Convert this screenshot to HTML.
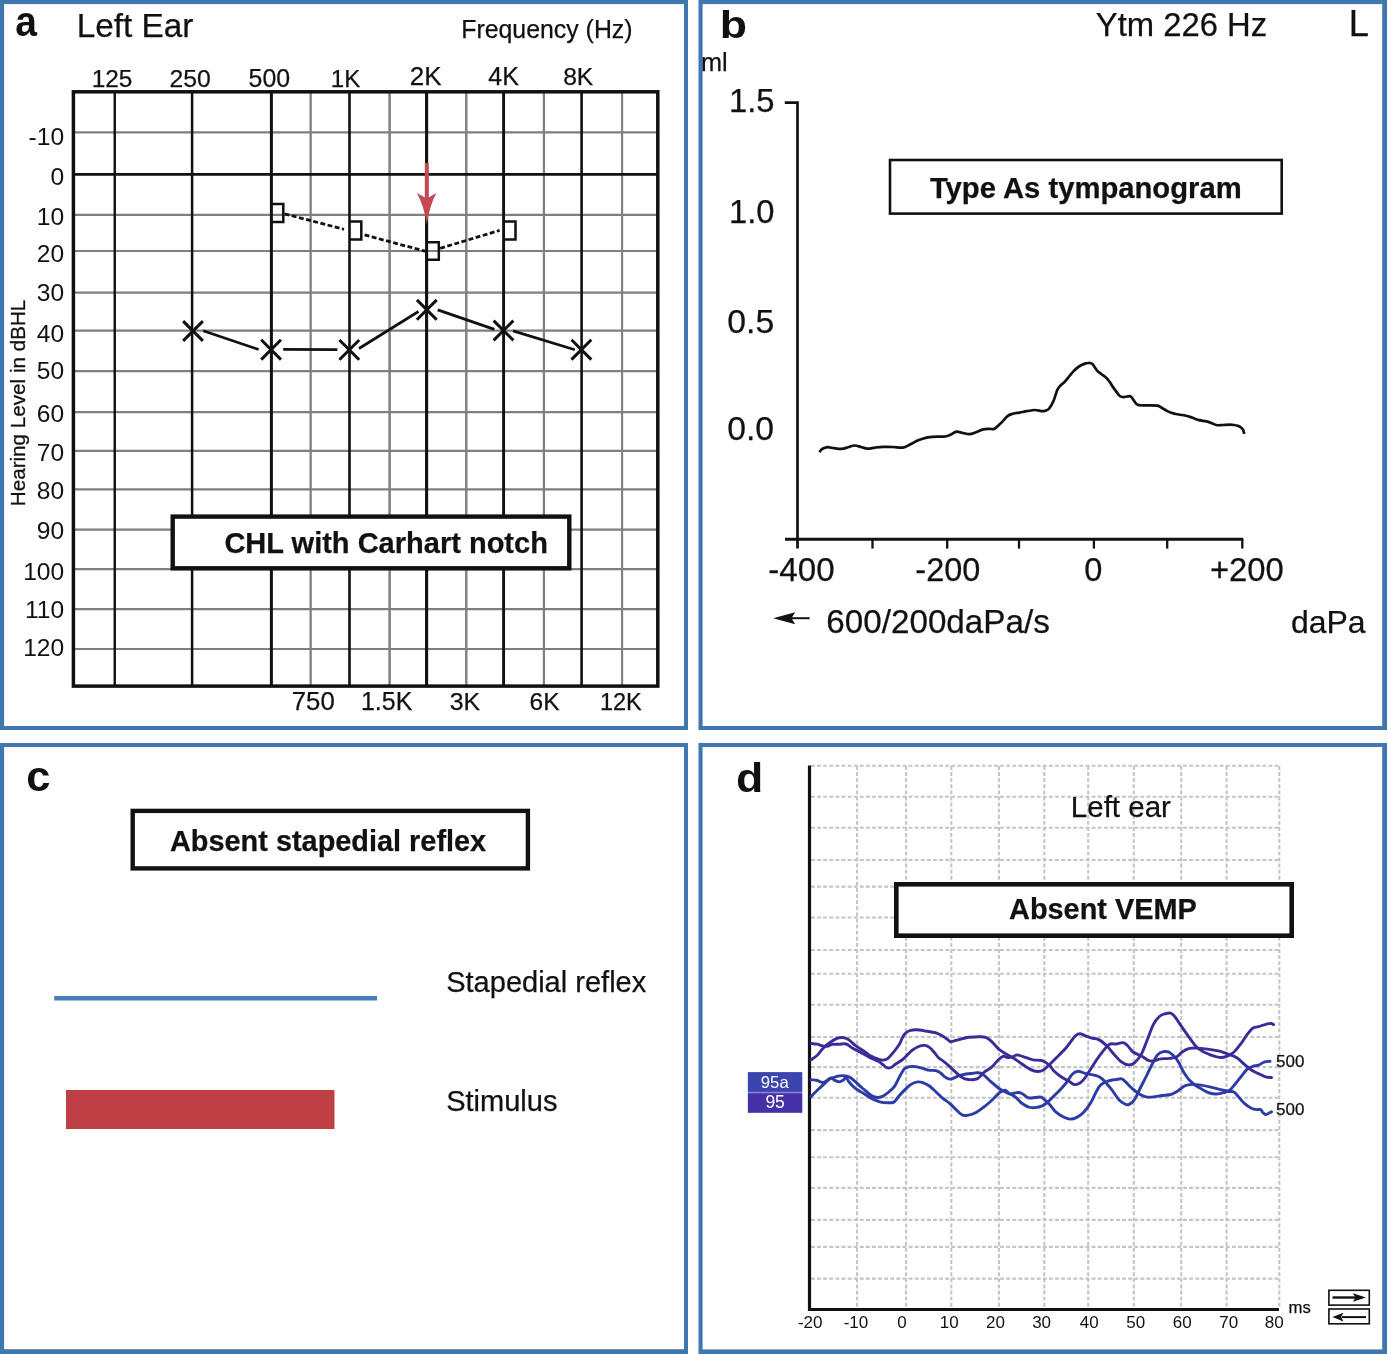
<!DOCTYPE html>
<html lang="en"><head><meta charset="utf-8"><title>Figure</title>
<style>
html,body{margin:0;padding:0;background:#fff;}
body{width:1388px;height:1354px;overflow:hidden;}
svg{display:block;font-family:'Liberation Sans', Arial, Helvetica, sans-serif;}
text{white-space:pre;}
</style></head><body>
<svg width="1388" height="1354" viewBox="0 0 1388 1354">
<rect width="1388" height="1354" fill="#fff"/>
<rect x="0" y="0" width="688" height="730" fill="#4177b1"/>
<rect x="4.1" y="4.1" width="679.9" height="721.9" fill="#fff"/>
<rect x="698.5" y="0" width="688.5" height="730" fill="#4177b1"/>
<rect x="702.6" y="4.1" width="679.6" height="721.9" fill="#fff"/>
<rect x="0" y="743" width="688" height="611" fill="#4177b1"/>
<rect x="4.1" y="747" width="679.9" height="602.2" fill="#fff"/>
<rect x="698.5" y="743" width="688.5" height="611" fill="#4177b1"/>
<rect x="702.6" y="747" width="679.6" height="602.4000000000001" fill="#fff"/>
<line x1="310.65" y1="91.8" x2="310.65" y2="686.1" stroke="#7f7f7f" stroke-width="2.3"/>
<line x1="389.6" y1="91.8" x2="389.6" y2="686.1" stroke="#7f7f7f" stroke-width="2.5"/>
<line x1="466.3" y1="91.8" x2="466.3" y2="686.1" stroke="#7f7f7f" stroke-width="2.4"/>
<line x1="543.9" y1="91.8" x2="543.9" y2="686.1" stroke="#7f7f7f" stroke-width="2.2"/>
<line x1="622.1" y1="91.8" x2="622.1" y2="686.1" stroke="#7f7f7f" stroke-width="2.1"/>
<line x1="73.4" y1="132.3" x2="657.8" y2="132.3" stroke="#7f7f7f" stroke-width="2.2"/>
<line x1="73.4" y1="214.9" x2="657.8" y2="214.9" stroke="#7f7f7f" stroke-width="2.2"/>
<line x1="73.4" y1="251.0" x2="657.8" y2="251.0" stroke="#7f7f7f" stroke-width="2.2"/>
<line x1="73.4" y1="292.6" x2="657.8" y2="292.6" stroke="#7f7f7f" stroke-width="2.2"/>
<line x1="73.4" y1="330.7" x2="657.8" y2="330.7" stroke="#7f7f7f" stroke-width="2.2"/>
<line x1="73.4" y1="371.2" x2="657.8" y2="371.2" stroke="#7f7f7f" stroke-width="2.2"/>
<line x1="73.4" y1="412.1" x2="657.8" y2="412.1" stroke="#7f7f7f" stroke-width="2.2"/>
<line x1="73.4" y1="450.9" x2="657.8" y2="450.9" stroke="#7f7f7f" stroke-width="2.2"/>
<line x1="73.4" y1="489.3" x2="657.8" y2="489.3" stroke="#7f7f7f" stroke-width="2.2"/>
<line x1="73.4" y1="529.6" x2="657.8" y2="529.6" stroke="#7f7f7f" stroke-width="2.2"/>
<line x1="73.4" y1="569.1" x2="657.8" y2="569.1" stroke="#7f7f7f" stroke-width="2.2"/>
<line x1="73.4" y1="609.1" x2="657.8" y2="609.1" stroke="#7f7f7f" stroke-width="2.2"/>
<line x1="73.4" y1="649.0" x2="657.8" y2="649.0" stroke="#7f7f7f" stroke-width="2.2"/>
<line x1="114.75" y1="91.8" x2="114.75" y2="686.1" stroke="#111" stroke-width="2.4"/>
<line x1="192.1" y1="91.8" x2="192.1" y2="686.1" stroke="#111" stroke-width="2.5"/>
<line x1="271.4" y1="91.8" x2="271.4" y2="686.1" stroke="#111" stroke-width="3.0"/>
<line x1="349.5" y1="91.8" x2="349.5" y2="686.1" stroke="#111" stroke-width="2.6"/>
<line x1="426.6" y1="91.8" x2="426.6" y2="686.1" stroke="#111" stroke-width="3.1"/>
<line x1="503.6" y1="91.8" x2="503.6" y2="686.1" stroke="#111" stroke-width="2.9"/>
<line x1="581.6" y1="91.8" x2="581.6" y2="686.1" stroke="#111" stroke-width="2.6"/>
<line x1="73.4" y1="174.3" x2="657.8" y2="174.3" stroke="#111" stroke-width="2.8"/>
<rect x="73.4" y="91.8" width="584.4" height="594.3000000000001" fill="none" stroke="#111" stroke-width="3.5"/>
<text transform="translate(15.27,35.88) scale(0.930,1)" font-size="41.97" font-weight="700" fill="#111">a</text>
<text x="76.77" y="37.20" font-size="33.32" fill="#111" stroke="#111" stroke-width="0.25">Left Ear</text>
<text x="461.26" y="37.70" font-size="24.87" fill="#111" stroke="#111" stroke-width="0.25">Frequency (Hz)</text>
<text x="91.65" y="87.30" font-size="24.39" fill="#111" stroke="#111" stroke-width="0.25">125</text>
<text x="169.46" y="87.30" font-size="24.76" fill="#111" stroke="#111" stroke-width="0.25">250</text>
<text x="248.61" y="87.30" font-size="24.86" fill="#111" stroke="#111" stroke-width="0.25">500</text>
<text x="330.77" y="86.50" font-size="24.14" fill="#111" stroke="#111" stroke-width="0.25">1K</text>
<text x="409.70" y="84.60" font-size="26.01" fill="#111" stroke="#111" stroke-width="0.25">2K</text>
<text x="488.32" y="84.60" font-size="25.08" fill="#111" stroke="#111" stroke-width="0.25">4K</text>
<text x="563.14" y="84.60" font-size="24.66" fill="#111" stroke="#111" stroke-width="0.25">8K</text>
<text x="291.79" y="709.60" font-size="25.73" fill="#111" stroke="#111" stroke-width="0.25">750</text>
<text x="361.00" y="709.60" font-size="24.94" fill="#111" stroke="#111" stroke-width="0.25">1.5K</text>
<text x="449.76" y="709.60" font-size="24.81" fill="#111" stroke="#111" stroke-width="0.25">3K</text>
<text x="529.55" y="709.60" font-size="24.57" fill="#111" stroke="#111" stroke-width="0.25">6K</text>
<text x="599.91" y="709.60" font-size="23.54" fill="#111" stroke="#111" stroke-width="0.25">12K</text>
<text x="28.61" y="144.50" font-size="24.6" fill="#111">-10</text>
<text x="50.48" y="185.10" font-size="24.6" fill="#111">0</text>
<text x="36.80" y="225.30" font-size="24.6" fill="#111">10</text>
<text x="36.80" y="262.10" font-size="24.6" fill="#111">20</text>
<text x="36.80" y="301.20" font-size="24.6" fill="#111">30</text>
<text x="36.80" y="341.90" font-size="24.6" fill="#111">40</text>
<text x="36.80" y="379.30" font-size="24.6" fill="#111">50</text>
<text x="36.80" y="421.90" font-size="24.6" fill="#111">60</text>
<text x="36.80" y="461.00" font-size="24.6" fill="#111">70</text>
<text x="36.80" y="498.90" font-size="24.6" fill="#111">80</text>
<text x="36.80" y="538.50" font-size="24.6" fill="#111">90</text>
<text x="23.13" y="579.70" font-size="24.6" fill="#111">100</text>
<text x="24.95" y="617.60" font-size="24.6" fill="#111">110</text>
<text x="23.13" y="655.70" font-size="24.6" fill="#111">120</text>
<text transform="translate(25.1,506.19) rotate(-90) scale(1.0427,1)" font-size="19.80" fill="#111" stroke="#111" stroke-width="0.3">Hearing Level in dBHL</text>
<line x1="203.1" y1="330.8" x2="258.6" y2="349.5" stroke="#111" stroke-width="2.7"/>
<line x1="283.2" y1="349.4" x2="337.4" y2="349.7" stroke="#111" stroke-width="2.7"/>
<line x1="359" y1="348.5" x2="418.5" y2="311.5" stroke="#111" stroke-width="2.7"/>
<line x1="437.7" y1="309.9" x2="494.4" y2="329.4" stroke="#111" stroke-width="2.7"/>
<line x1="513" y1="330.9" x2="574.8" y2="349.7" stroke="#111" stroke-width="2.7"/>
<path d="M183.1,321.1L202.9,340.9M183.1,340.9L202.9,321.1" stroke="#111" stroke-width="3.0" fill="none"/>
<path d="M261.20000000000005,339.8L281.0,359.59999999999997M261.20000000000005,359.59999999999997L281.0,339.8" stroke="#111" stroke-width="3.0" fill="none"/>
<path d="M339.40000000000003,340.0L359.2,359.79999999999995M339.40000000000003,359.79999999999995L359.2,340.0" stroke="#111" stroke-width="3.0" fill="none"/>
<path d="M416.90000000000003,299.90000000000003L436.7,319.7M416.90000000000003,319.7L436.7,299.90000000000003" stroke="#111" stroke-width="3.0" fill="none"/>
<path d="M493.6,320.6L513.4,340.4M493.6,340.4L513.4,320.6" stroke="#111" stroke-width="3.0" fill="none"/>
<path d="M571.5,339.8L591.3,359.59999999999997M571.5,359.59999999999997L591.3,339.8" stroke="#111" stroke-width="3.0" fill="none"/>
<path d="M271.4,203.89999999999998H283.3V222.10000000000002H271.4" stroke="#111" stroke-width="2.5" fill="none"/>
<path d="M349.5,221.5H361.3V239.60000000000002H349.5" stroke="#111" stroke-width="2.5" fill="none"/>
<path d="M426.6,242.29999999999998H438.8V259.8H426.6" stroke="#111" stroke-width="2.5" fill="none"/>
<path d="M503.6,221.5H515.5V239.60000000000002H503.6" stroke="#111" stroke-width="2.5" fill="none"/>
<line x1="284.6" y1="213.8" x2="344" y2="229.3" stroke="#111" stroke-width="2.8" stroke-dasharray="4.9 2.5"/>
<line x1="364.6" y1="234.9" x2="425.1" y2="251.2" stroke="#111" stroke-width="2.8" stroke-dasharray="4.9 2.5"/>
<line x1="440.2" y1="248.3" x2="499.6" y2="230.4" stroke="#111" stroke-width="2.8" stroke-dasharray="4.9 2.5"/>
<line x1="426.8" y1="163" x2="426.8" y2="200" stroke="#c54852" stroke-width="4"/>
<path d="M416.9,193 L426.8,198.6 L436.3,193 Q429.5,206 426.8,224.2 Q424,206 416.9,193Z" fill="#c54852"/>
<rect x="172.7" y="516.6" width="396.6" height="51.7" fill="#fff" stroke="#111" stroke-width="4.4"/>
<text x="224.41" y="553.00" font-size="29.02" font-weight="700" fill="#111" stroke="#111" stroke-width="0.25">CHL with Carhart notch</text>
<text transform="translate(719.80,38.36) scale(1.141,1)" font-size="39.12" font-weight="700" fill="#111">b</text>
<text x="1095.78" y="35.80" font-size="32.80" fill="#111" stroke="#111" stroke-width="0.25">Ytm 226 Hz</text>
<text x="1348.72" y="35.70" font-size="36.28" fill="#111" stroke="#111" stroke-width="0.25">L</text>
<text x="701.09" y="70.75" font-size="25.22" fill="#111" stroke="#111" stroke-width="0.25">ml</text>
<path d="M784.8,102.6H797.5V548.6" stroke="#111" stroke-width="2.7" fill="none"/>
<line x1="785" y1="539.2" x2="1243.3" y2="539.2" stroke="#111" stroke-width="2.9"/>
<line x1="872.5" y1="539" x2="872.5" y2="548.6" stroke="#111" stroke-width="2.3"/>
<line x1="947.2" y1="539" x2="947.2" y2="548.6" stroke="#111" stroke-width="2.3"/>
<line x1="1019" y1="539" x2="1019" y2="548.6" stroke="#111" stroke-width="2.3"/>
<line x1="1093.9" y1="539" x2="1093.9" y2="548.6" stroke="#111" stroke-width="2.3"/>
<line x1="1167.2" y1="539" x2="1167.2" y2="548.6" stroke="#111" stroke-width="2.3"/>
<line x1="1242.3" y1="539" x2="1242.3" y2="548.6" stroke="#111" stroke-width="2.3"/>
<text x="729.01" y="111.50" font-size="32.78" fill="#111" stroke="#111" stroke-width="0.25">1.5</text>
<text x="729.01" y="223.20" font-size="32.71" fill="#111" stroke="#111" stroke-width="0.25">1.0</text>
<text x="727.28" y="332.90" font-size="33.77" fill="#111" stroke="#111" stroke-width="0.25">0.5</text>
<text x="727.29" y="439.90" font-size="33.69" fill="#111" stroke="#111" stroke-width="0.25">0.0</text>
<text x="768.24" y="580.90" font-size="33.16" fill="#111" stroke="#111" stroke-width="0.25">-400</text>
<text x="915.37" y="580.90" font-size="32.43" fill="#111" stroke="#111" stroke-width="0.25">-200</text>
<text x="1084.14" y="580.90" font-size="32.60" fill="#111" stroke="#111" stroke-width="0.25">0</text>
<text x="1209.89" y="580.90" font-size="32.81" fill="#111" stroke="#111" stroke-width="0.25">+200</text>
<text x="826.31" y="633.20" font-size="33.22" fill="#111" stroke="#111" stroke-width="0.25">600/200daPa/s</text>
<text x="1290.96" y="633.20" font-size="31.97" fill="#111" stroke="#111" stroke-width="0.25">daPa</text>
<line x1="790" y1="618.2" x2="809.6" y2="618.2" stroke="#111" stroke-width="2"/>
<path d="M773.2,618.2 L795.2,612.2 L791.5,618.2 L795.2,624.2Z" fill="#111"/>
<rect x="890" y="160" width="391.7" height="53.6" fill="#fff" stroke="#111" stroke-width="2.6"/>
<text x="929.93" y="197.50" font-size="29.23" font-weight="700" fill="#111" stroke="#111" stroke-width="0.25">Type As tympanogram</text>
<path d="M819.4,452.1C819.8,451.7 820.7,450.3 821.5,449.6C822.3,448.9 823.2,448.5 824.2,448.1C825.2,447.7 826.1,447.2 827.7,447.2C829.3,447.2 831.7,447.9 834.0,448.2C836.3,448.5 839.2,449.0 841.5,448.9C843.8,448.8 845.8,447.9 848.0,447.3C850.2,446.7 852.3,445.6 854.5,445.5C856.7,445.4 858.9,446.5 861.0,447.0C863.1,447.5 865.1,448.5 867.4,448.6C869.7,448.7 872.4,447.9 875.0,447.6C877.6,447.3 880.0,447.0 883.0,446.9C886.0,446.8 889.7,446.9 893.0,447.0C896.3,447.1 900.1,448.0 902.9,447.6C905.7,447.2 907.5,445.7 910.0,444.5C912.5,443.3 915.4,441.6 917.6,440.6C919.9,439.6 921.5,439.1 923.5,438.5C925.5,437.9 927.5,437.5 929.7,437.2C932.0,436.9 934.4,436.8 937.0,436.7C939.6,436.6 943.0,436.9 945.3,436.5C947.6,436.1 949.1,435.3 951.0,434.5C952.9,433.7 954.5,431.9 956.5,431.6C958.5,431.4 960.8,432.6 963.0,433.0C965.2,433.4 967.3,434.3 969.5,434.2C971.7,434.1 973.7,433.0 976.0,432.2C978.3,431.4 981.1,430.0 983.3,429.4C985.5,428.8 987.1,428.9 989.0,428.8C990.9,428.7 992.5,429.7 994.5,428.7C996.5,427.7 998.8,425.1 1001.0,423.0C1003.2,420.9 1005.5,417.7 1007.5,416.1C1009.5,414.6 1011.0,414.3 1013.0,413.7C1015.0,413.1 1017.3,413.0 1019.6,412.6C1021.9,412.2 1024.5,411.6 1027.0,411.2C1029.5,410.8 1032.1,410.0 1034.7,410.0C1037.3,410.0 1040.5,411.2 1042.5,411.2C1044.5,411.2 1045.3,410.7 1046.5,410.2C1047.7,409.7 1048.2,409.9 1049.4,408.3C1050.6,406.7 1052.4,403.5 1053.7,400.5C1055.0,397.5 1056.1,392.6 1057.2,390.1C1058.3,387.6 1059.2,386.9 1060.5,385.5C1061.8,384.1 1063.5,383.1 1065.0,381.5C1066.5,379.9 1068.1,377.7 1069.5,376.0C1070.9,374.3 1072.3,372.5 1073.6,371.1C1074.9,369.7 1076.2,368.6 1077.5,367.6C1078.8,366.6 1080.2,365.8 1081.4,365.1C1082.7,364.4 1083.8,364.0 1085.0,363.6C1086.2,363.2 1087.3,363.1 1088.3,363.0C1089.3,362.9 1090.1,363.0 1090.8,363.2C1091.5,363.4 1091.6,363.0 1092.6,364.2C1093.6,365.4 1095.4,368.6 1096.9,370.3C1098.4,372.0 1099.9,372.9 1101.5,374.2C1103.1,375.5 1105.1,376.6 1106.5,378.0C1107.9,379.4 1108.8,380.8 1110.0,382.4C1111.2,384.0 1111.8,385.4 1113.4,387.6C1115.0,389.8 1118.1,394.2 1119.4,395.7C1120.8,397.2 1120.8,396.6 1121.5,396.8C1122.2,397.0 1122.9,397.2 1123.8,397.1C1124.7,397.1 1126.0,396.6 1127.0,396.5C1128.0,396.4 1129.0,396.1 1129.8,396.2C1130.6,396.3 1131.1,396.8 1131.7,397.4C1132.3,398.0 1132.7,398.8 1133.3,399.7C1133.9,400.6 1134.9,402.1 1135.6,403.0C1136.3,403.9 1136.7,404.4 1137.6,404.8C1138.5,405.2 1139.3,405.2 1141.0,405.3C1142.7,405.4 1145.2,405.3 1148.0,405.4C1150.8,405.5 1155.2,405.3 1157.5,405.7C1159.8,406.1 1160.4,407.1 1162.0,408.0C1163.6,408.9 1165.5,410.1 1167.0,410.9C1168.5,411.7 1169.6,412.2 1171.0,412.7C1172.4,413.2 1173.1,413.5 1175.6,414.0C1178.1,414.5 1183.3,415.1 1186.0,415.7C1188.7,416.3 1190.0,416.9 1192.0,417.6C1194.0,418.3 1196.3,419.3 1198.1,419.9C1199.9,420.4 1201.4,420.6 1203.0,420.9C1204.6,421.2 1206.0,421.2 1207.6,421.6C1209.2,422.0 1210.9,422.9 1212.5,423.5C1214.1,424.1 1215.3,424.9 1217.1,425.2C1218.8,425.4 1220.8,425.1 1223.0,425.0C1225.2,424.9 1228.3,424.7 1230.1,424.7C1231.9,424.7 1232.7,424.8 1234.0,425.0C1235.3,425.2 1236.7,425.5 1237.9,425.9C1239.1,426.3 1240.1,426.8 1241.0,427.5C1241.9,428.2 1242.5,428.8 1243.1,429.9C1243.6,431.0 1244.1,433.2 1244.3,433.9" stroke="#111" stroke-width="2.7" fill="none" stroke-linecap="butt" stroke-linejoin="round"/>
<text transform="translate(26.30,790.83) scale(1.026,1)" font-size="42.43" font-weight="700" fill="#111">c</text>
<rect x="132.7" y="810.9" width="395.2" height="57.5" fill="#fff" stroke="#111" stroke-width="4.4"/>
<text x="170.03" y="851.20" font-size="28.88" font-weight="700" fill="#111" stroke="#111" stroke-width="0.25">Absent stapedial reflex</text>
<line x1="54.2" y1="998.2" x2="377" y2="998.2" stroke="#4a7ebb" stroke-width="4.4"/>
<rect x="66" y="1090" width="268.5" height="39" fill="#be4045"/>
<text x="446.16" y="992.40" font-size="29.04" fill="#111" stroke="#111" stroke-width="0.25">Stapedial reflex</text>
<text x="446.16" y="1110.80" font-size="29.04" fill="#111" stroke="#111" stroke-width="0.25">Stimulus</text>
<text transform="translate(735.92,792.10) scale(1.112,1)" font-size="40.14" font-weight="700" fill="#111">d</text>
<line x1="811" y1="765.8" x2="1279" y2="765.8" stroke="#c5c5c5" stroke-width="2.1" stroke-dasharray="3.9 2.2"/>
<line x1="811" y1="796.8" x2="1279" y2="796.8" stroke="#c5c5c5" stroke-width="2.1" stroke-dasharray="3.9 2.2"/>
<line x1="811" y1="827.7" x2="1279" y2="827.7" stroke="#c5c5c5" stroke-width="2.1" stroke-dasharray="3.9 2.2"/>
<line x1="811" y1="860" x2="1279" y2="860" stroke="#c5c5c5" stroke-width="2.1" stroke-dasharray="3.9 2.2"/>
<line x1="811" y1="886.6" x2="1279" y2="886.6" stroke="#c5c5c5" stroke-width="2.1" stroke-dasharray="3.9 2.2"/>
<line x1="811" y1="917.5" x2="1279" y2="917.5" stroke="#c5c5c5" stroke-width="2.1" stroke-dasharray="3.9 2.2"/>
<line x1="811" y1="950" x2="1279" y2="950" stroke="#c5c5c5" stroke-width="2.1" stroke-dasharray="3.9 2.2"/>
<line x1="811" y1="973.8" x2="1279" y2="973.8" stroke="#c5c5c5" stroke-width="2.1" stroke-dasharray="3.9 2.2"/>
<line x1="811" y1="1004.7" x2="1279" y2="1004.7" stroke="#c5c5c5" stroke-width="2.1" stroke-dasharray="3.9 2.2"/>
<line x1="811" y1="1037" x2="1279" y2="1037" stroke="#c5c5c5" stroke-width="2.1" stroke-dasharray="3.9 2.2"/>
<line x1="811" y1="1067.1" x2="1279" y2="1067.1" stroke="#c5c5c5" stroke-width="2.1" stroke-dasharray="3.9 2.2"/>
<line x1="811" y1="1097.7" x2="1279" y2="1097.7" stroke="#c5c5c5" stroke-width="2.1" stroke-dasharray="3.9 2.2"/>
<line x1="811" y1="1130.1" x2="1279" y2="1130.1" stroke="#c5c5c5" stroke-width="2.1" stroke-dasharray="3.9 2.2"/>
<line x1="811" y1="1157.3" x2="1279" y2="1157.3" stroke="#c5c5c5" stroke-width="2.1" stroke-dasharray="3.9 2.2"/>
<line x1="811" y1="1187.9" x2="1279" y2="1187.9" stroke="#c5c5c5" stroke-width="2.1" stroke-dasharray="3.9 2.2"/>
<line x1="811" y1="1219.9" x2="1279" y2="1219.9" stroke="#c5c5c5" stroke-width="2.1" stroke-dasharray="3.9 2.2"/>
<line x1="811" y1="1246.9" x2="1279" y2="1246.9" stroke="#c5c5c5" stroke-width="2.1" stroke-dasharray="3.9 2.2"/>
<line x1="811" y1="1278.6" x2="1279" y2="1278.6" stroke="#c5c5c5" stroke-width="2.1" stroke-dasharray="3.9 2.2"/>
<line x1="857.1" y1="766" x2="857.1" y2="1308" stroke="#c5c5c5" stroke-width="2.1" stroke-dasharray="3.9 2.2"/>
<line x1="906.1" y1="766" x2="906.1" y2="1308" stroke="#c5c5c5" stroke-width="2.1" stroke-dasharray="3.9 2.2"/>
<line x1="951.3" y1="766" x2="951.3" y2="1308" stroke="#c5c5c5" stroke-width="2.1" stroke-dasharray="3.9 2.2"/>
<line x1="998.9" y1="766" x2="998.9" y2="1308" stroke="#c5c5c5" stroke-width="2.1" stroke-dasharray="3.9 2.2"/>
<line x1="1044.3" y1="766" x2="1044.3" y2="1308" stroke="#c5c5c5" stroke-width="2.1" stroke-dasharray="3.9 2.2"/>
<line x1="1088.2" y1="766" x2="1088.2" y2="1308" stroke="#c5c5c5" stroke-width="2.1" stroke-dasharray="3.9 2.2"/>
<line x1="1133.8" y1="766" x2="1133.8" y2="1308" stroke="#c5c5c5" stroke-width="2.1" stroke-dasharray="3.9 2.2"/>
<line x1="1181.2" y1="766" x2="1181.2" y2="1308" stroke="#c5c5c5" stroke-width="2.1" stroke-dasharray="3.9 2.2"/>
<line x1="1226.6" y1="766" x2="1226.6" y2="1308" stroke="#c5c5c5" stroke-width="2.1" stroke-dasharray="3.9 2.2"/>
<line x1="1279.3" y1="766" x2="1279.3" y2="1308" stroke="#c5c5c5" stroke-width="2.1" stroke-dasharray="3.9 2.2"/>
<path d="M809.5,765.5V1309.5H1279" stroke="#111" stroke-width="3.2" fill="none"/>
<text x="797.88" y="1328.4" font-size="17" fill="#111">-20</text>
<text x="843.67" y="1328.4" font-size="17" fill="#111">-10</text>
<text x="897.17" y="1328.4" font-size="17" fill="#111">0</text>
<text x="939.83" y="1328.4" font-size="17" fill="#111">10</text>
<text x="986.05" y="1328.4" font-size="17" fill="#111">20</text>
<text x="1032.16" y="1328.4" font-size="17" fill="#111">30</text>
<text x="1079.78" y="1328.4" font-size="17" fill="#111">40</text>
<text x="1126.34" y="1328.4" font-size="17" fill="#111">50</text>
<text x="1172.85" y="1328.4" font-size="17" fill="#111">60</text>
<text x="1219.25" y="1328.4" font-size="17" fill="#111">70</text>
<text x="1264.71" y="1328.4" font-size="17" fill="#111">80</text>
<text x="1288.60" y="1312.50" font-size="16.73" fill="#111" stroke="#111" stroke-width="0.25">ms</text>
<text x="1276.02" y="1066.80" font-size="16.99" fill="#111" stroke="#111" stroke-width="0.25">500</text>
<text x="1276.02" y="1115.20" font-size="16.99" fill="#111" stroke="#111" stroke-width="0.25">500</text>
<text x="1070.78" y="817.10" font-size="29.56" fill="#111" stroke="#111" stroke-width="0.25">Left ear</text>
<rect x="747.9" y="1072.2" width="54.3" height="40.5" fill="#8a86d8"/>
<rect x="747.9" y="1072.2" width="54.3" height="19.6" fill="#3a46ae"/>
<rect x="747.9" y="1093.3" width="54.3" height="19.4" fill="#4530a5"/>
<text x="760.81" y="1087.80" font-size="16.72" fill="#fff">95a</text>
<text x="765.38" y="1108.20" font-size="17.50" fill="#fff">95</text>
<path d="M811.0,1079.6C812.0,1079.8 815.3,1080.0 817.3,1080.5C819.3,1081.0 821.3,1082.6 823.1,1082.5C824.8,1082.4 826.3,1080.7 827.7,1079.9C829.0,1079.2 830.0,1077.9 831.1,1078.0C832.3,1078.0 833.2,1079.5 834.6,1080.2C835.9,1080.8 837.8,1081.9 839.2,1081.9C840.6,1081.9 842.1,1080.9 843.2,1080.2C844.4,1079.4 845.2,1077.1 846.1,1077.3C847.0,1077.4 847.1,1079.4 848.4,1081.1C849.8,1082.8 851.9,1085.5 854.2,1087.4C856.5,1089.4 859.4,1090.8 862.2,1092.6C865.1,1094.4 868.4,1096.8 871.5,1098.4C874.5,1100.0 878.0,1101.3 880.7,1102.1C883.4,1102.8 885.4,1102.8 887.6,1102.8C889.8,1102.8 892.2,1103.0 893.9,1102.1C895.7,1101.2 896.3,1099.1 898.0,1097.2C899.6,1095.4 901.6,1093.0 903.7,1090.9C905.9,1088.8 908.4,1086.1 910.7,1084.6C913.0,1083.1 915.5,1082.2 917.6,1081.9C919.7,1081.6 921.4,1082.2 923.3,1082.8C925.3,1083.5 927.0,1084.2 929.1,1085.7C931.2,1087.2 933.7,1089.9 936.0,1092.0C938.3,1094.2 940.6,1096.5 942.9,1098.4C945.2,1100.3 946.8,1100.9 949.9,1103.6C953.0,1106.3 958.4,1112.6 961.5,1114.5C964.6,1116.4 965.9,1115.5 968.4,1115.1C970.9,1114.7 973.8,1113.7 976.5,1112.2C979.2,1110.8 981.9,1108.6 984.6,1106.5C987.3,1104.3 990.2,1101.8 992.7,1099.5C995.1,1097.2 997.5,1094.2 999.6,1092.6C1001.7,1091.1 1003.6,1090.1 1005.3,1090.3C1007.1,1090.5 1008.0,1093.4 1009.9,1093.8C1011.9,1094.2 1014.9,1092.7 1016.9,1092.6C1018.8,1092.5 1019.5,1092.3 1021.5,1093.2C1023.4,1094.1 1026.1,1097.1 1028.4,1097.8C1030.7,1098.5 1033.2,1097.6 1035.3,1097.5C1037.4,1097.4 1039.3,1096.7 1041.1,1097.2C1042.8,1097.8 1044.1,1099.3 1045.7,1100.7C1047.2,1102.0 1048.6,1103.4 1050.3,1105.3C1052.0,1107.2 1053.9,1110.3 1056.1,1112.2C1058.2,1114.1 1060.7,1115.7 1063.0,1116.8C1065.3,1118.0 1067.6,1119.0 1069.9,1119.1C1072.2,1119.2 1074.5,1118.6 1076.8,1117.4C1079.1,1116.3 1081.4,1114.6 1083.7,1112.2C1086.0,1109.8 1088.5,1106.5 1090.6,1103.0C1092.7,1099.5 1094.7,1094.5 1096.4,1091.5C1098.1,1088.4 1099.0,1086.3 1101.0,1084.6C1103.0,1082.8 1106.2,1081.6 1108.6,1080.8C1111.1,1080.0 1113.7,1079.9 1115.9,1079.6C1118.0,1079.3 1119.9,1078.5 1121.6,1078.9C1123.3,1079.3 1124.3,1080.7 1125.9,1082.2C1127.6,1083.7 1129.5,1086.1 1131.7,1088.0C1133.9,1089.9 1136.5,1092.3 1138.9,1093.7C1141.3,1095.2 1143.7,1096.4 1146.1,1096.9C1148.5,1097.4 1150.7,1097.2 1153.3,1096.9C1156.0,1096.7 1159.1,1095.9 1162.0,1095.5C1164.8,1095.1 1168.0,1095.2 1170.6,1094.5C1173.2,1093.7 1175.4,1092.3 1177.8,1090.9C1180.2,1089.4 1182.6,1086.9 1185.0,1085.8C1187.4,1084.7 1189.6,1084.5 1192.2,1084.4C1194.9,1084.3 1198.0,1084.7 1200.9,1085.1C1203.7,1085.5 1206.4,1086.1 1209.5,1086.8C1212.6,1087.6 1216.5,1088.7 1219.6,1089.4C1222.7,1090.2 1225.8,1090.9 1228.2,1091.3C1230.6,1091.7 1232.3,1091.1 1234.0,1092.0C1235.7,1092.9 1236.6,1094.8 1238.3,1096.6C1240.0,1098.5 1241.9,1101.2 1244.1,1103.1C1246.3,1105.0 1249.1,1107.1 1251.3,1108.2C1253.5,1109.2 1255.5,1109.4 1257.1,1109.6C1258.6,1109.8 1259.7,1109.1 1260.7,1109.6C1261.6,1110.1 1262.0,1111.6 1262.8,1112.5C1263.7,1113.3 1264.7,1114.5 1265.7,1114.6C1266.7,1114.8 1267.6,1113.7 1268.6,1113.2C1269.5,1112.7 1271.0,1112.0 1271.5,1111.8" stroke="#2c3ba6" stroke-width="2.9" fill="none" stroke-linejoin="round" stroke-linecap="round"/>
<path d="M811.0,1096.7C812.0,1095.6 815.1,1092.4 817.3,1090.3C819.5,1088.2 822.1,1085.9 824.2,1084.0C826.3,1082.1 828.4,1079.8 830.0,1078.8C831.5,1077.7 832.1,1078.1 833.4,1077.6C834.8,1077.2 836.3,1076.5 838.0,1076.1C839.8,1075.8 841.9,1075.5 843.8,1075.7C845.7,1075.8 847.6,1076.1 849.6,1077.1C851.5,1078.1 853.2,1079.8 855.3,1081.7C857.4,1083.5 859.9,1086.0 862.2,1088.0C864.6,1090.0 867.2,1092.3 869.2,1093.8C871.1,1095.2 872.2,1096.0 873.8,1096.7C875.3,1097.3 876.8,1097.6 878.4,1097.5C879.9,1097.4 881.3,1097.0 883.0,1096.1C884.7,1095.2 886.8,1093.7 888.8,1092.0C890.7,1090.4 892.8,1088.7 894.5,1086.3C896.3,1083.9 897.6,1080.4 899.1,1077.6C900.7,1074.9 902.2,1071.4 903.7,1069.6C905.3,1067.8 906.6,1067.4 908.4,1066.9C910.1,1066.4 912.0,1066.3 914.1,1066.5C916.2,1066.6 918.7,1067.2 921.0,1067.8C923.3,1068.5 925.5,1069.7 928.0,1070.1C930.5,1070.6 933.9,1070.2 936.0,1070.7C938.1,1071.2 939.1,1072.0 940.6,1073.0C942.2,1074.1 943.5,1076.0 945.2,1077.1C947.0,1078.1 948.5,1079.4 951.0,1079.1C953.5,1078.8 956.4,1076.3 960.0,1075.3C963.7,1074.4 969.5,1073.6 973.1,1073.3C976.6,1072.9 978.2,1072.0 981.1,1073.3C984.0,1074.6 987.5,1078.6 990.3,1081.1C993.2,1083.6 995.9,1086.2 998.4,1088.0C1000.9,1089.8 1003.0,1090.9 1005.3,1092.0C1007.6,1093.2 1010.3,1093.9 1012.2,1094.9C1014.2,1096.0 1015.3,1097.0 1016.9,1098.4C1018.4,1099.7 1019.5,1101.6 1021.5,1103.0C1023.4,1104.4 1026.1,1106.3 1028.4,1107.0C1030.7,1107.8 1033.0,1107.8 1035.3,1107.6C1037.6,1107.4 1040.1,1106.8 1042.2,1105.9C1044.3,1104.9 1046.1,1103.5 1048.0,1101.8C1049.9,1100.2 1051.6,1098.2 1053.7,1096.1C1055.9,1094.0 1058.4,1091.7 1060.7,1089.2C1063.0,1086.7 1065.7,1083.6 1067.6,1081.1C1069.5,1078.6 1070.5,1075.8 1072.2,1074.2C1073.9,1072.5 1075.6,1071.4 1078.0,1071.3C1080.3,1071.2 1083.1,1072.9 1086.0,1073.6C1088.9,1074.3 1092.6,1074.5 1095.2,1075.3C1097.9,1076.2 1099.4,1076.4 1102.2,1078.8C1104.9,1081.1 1108.8,1086.0 1111.5,1089.4C1114.3,1092.9 1116.6,1097.1 1118.7,1099.5C1120.9,1101.9 1122.8,1103.0 1124.5,1103.8C1126.2,1104.7 1127.1,1105.3 1128.8,1104.6C1130.5,1103.8 1132.7,1102.3 1134.6,1099.5C1136.5,1096.7 1138.2,1092.3 1140.3,1088.0C1142.5,1083.7 1145.4,1077.9 1147.6,1073.6C1149.7,1069.3 1151.6,1065.2 1153.3,1062.0C1155.0,1058.9 1156.0,1056.6 1157.6,1054.8C1159.3,1053.1 1161.5,1052.1 1163.4,1051.7C1165.3,1051.2 1167.2,1051.4 1169.2,1052.2C1171.1,1053.1 1173.2,1055.1 1174.9,1057.0C1176.6,1058.9 1177.8,1061.0 1179.3,1063.5C1180.7,1066.0 1181.9,1069.4 1183.6,1072.1C1185.3,1074.9 1187.4,1077.9 1189.3,1080.1C1191.3,1082.2 1192.9,1083.5 1195.1,1085.1C1197.3,1086.7 1199.9,1088.1 1202.3,1089.4C1204.7,1090.7 1207.1,1092.3 1209.5,1093.0C1211.9,1093.8 1214.3,1094.1 1216.7,1094.0C1219.1,1094.0 1221.8,1093.2 1223.9,1092.6C1226.1,1091.9 1227.8,1091.6 1229.7,1090.1C1231.6,1088.7 1233.5,1085.9 1235.4,1083.7C1237.4,1081.4 1239.3,1078.9 1241.2,1076.5C1243.1,1074.1 1245.1,1070.9 1247.0,1069.3C1248.9,1067.6 1250.8,1067.0 1252.7,1066.4C1254.7,1065.7 1256.6,1065.9 1258.5,1065.2C1260.4,1064.5 1262.3,1062.7 1264.3,1062.0C1266.2,1061.4 1269.1,1061.4 1270.0,1061.3" stroke="#2c3ba6" stroke-width="2.9" fill="none" stroke-linejoin="round" stroke-linecap="round"/>
<path d="M811.0,1043.4C812.0,1043.5 815.4,1043.8 817.3,1044.2C819.2,1044.6 820.8,1045.6 822.5,1045.9C824.1,1046.3 825.5,1046.5 827.1,1046.3C828.7,1046.0 830.3,1044.8 832.3,1044.4C834.3,1044.1 836.9,1044.3 839.2,1044.2C841.5,1044.1 844.0,1043.4 846.1,1044.0C848.2,1044.6 849.6,1046.3 851.9,1047.7C854.2,1049.0 857.1,1050.5 859.9,1052.0C862.8,1053.6 866.1,1055.6 869.2,1057.1C872.2,1058.7 876.1,1060.0 878.4,1061.3C880.7,1062.5 881.7,1063.7 883.0,1064.7C884.3,1065.8 885.1,1067.0 886.5,1067.5C887.8,1068.0 889.5,1068.1 891.1,1067.5C892.6,1066.9 893.6,1065.5 895.7,1064.0C897.8,1062.6 901.1,1060.9 903.7,1058.6C906.4,1056.4 909.3,1052.6 911.8,1050.5C914.3,1048.5 916.6,1047.4 918.7,1046.5C920.8,1045.6 922.8,1045.3 924.5,1045.4C926.2,1045.5 927.6,1046.0 929.1,1047.1C930.6,1048.1 932.2,1050.0 933.7,1051.7C935.3,1053.4 936.4,1055.6 938.3,1057.5C940.2,1059.3 941.4,1059.4 945.2,1062.7C949.1,1065.9 957.5,1074.2 961.5,1077.1C965.6,1079.9 967.1,1079.3 969.6,1079.6C972.1,1079.9 974.7,1079.6 976.5,1079.0C978.3,1078.5 978.9,1077.4 980.2,1076.3C981.5,1075.1 982.7,1073.4 984.6,1071.9C986.5,1070.4 989.2,1069.3 991.5,1067.3C993.8,1065.2 996.5,1061.6 998.4,1059.8C1000.3,1057.9 1001.5,1056.7 1003.0,1056.3C1004.6,1055.9 1006.1,1057.3 1007.6,1057.5C1009.2,1057.6 1010.7,1057.5 1012.2,1057.1C1013.8,1056.7 1014.9,1055.0 1016.9,1054.9C1018.8,1054.9 1021.1,1056.1 1023.8,1056.9C1026.5,1057.7 1029.9,1059.2 1033.0,1059.8C1036.1,1060.4 1039.5,1059.7 1042.2,1060.6C1044.9,1061.4 1047.2,1063.3 1049.1,1065.0C1051.1,1066.6 1051.8,1068.8 1053.7,1070.7C1055.7,1072.6 1058.2,1074.8 1060.7,1076.5C1063.2,1078.2 1066.4,1079.8 1068.7,1081.1C1071.0,1082.4 1072.6,1084.3 1074.5,1084.6C1076.4,1084.8 1078.3,1084.2 1080.3,1082.8C1082.2,1081.5 1084.1,1079.1 1086.0,1076.5C1087.9,1073.9 1089.7,1070.5 1091.8,1067.3C1093.9,1064.0 1095.9,1060.6 1098.7,1056.9C1101.5,1053.1 1105.8,1046.9 1108.6,1044.8C1111.5,1042.6 1113.4,1044.4 1115.9,1044.0C1118.3,1043.7 1121.1,1042.4 1123.1,1042.6C1125.0,1042.8 1125.7,1043.9 1127.4,1045.5C1129.1,1047.0 1130.7,1050.2 1133.1,1052.0C1135.5,1053.8 1139.1,1054.8 1141.8,1056.3C1144.4,1057.7 1146.8,1059.9 1149.0,1060.6C1151.2,1061.3 1152.8,1060.9 1154.8,1060.6C1156.7,1060.3 1158.1,1059.2 1160.5,1058.9C1162.9,1058.5 1166.5,1058.8 1169.2,1058.4C1171.8,1058.1 1174.2,1058.1 1176.4,1057.0C1178.5,1055.9 1180.0,1053.4 1182.1,1052.0C1184.3,1050.5 1186.7,1049.0 1189.3,1048.4C1192.0,1047.7 1194.6,1047.9 1198.0,1048.1C1201.3,1048.2 1205.9,1048.8 1209.5,1049.4C1213.1,1049.9 1216.5,1050.4 1219.6,1051.2C1222.7,1052.0 1225.4,1053.0 1228.2,1054.1C1231.1,1055.2 1234.2,1056.0 1236.9,1057.7C1239.5,1059.4 1241.7,1062.2 1244.1,1064.2C1246.5,1066.2 1248.9,1068.4 1251.3,1070.0C1253.7,1071.5 1256.1,1072.4 1258.5,1073.6C1260.9,1074.7 1263.5,1076.2 1265.7,1076.9C1267.9,1077.5 1270.5,1077.4 1271.5,1077.5" stroke="#3a2c98" stroke-width="2.9" fill="none" stroke-linejoin="round" stroke-linecap="round"/>
<path d="M811.0,1059.8C812.0,1059.0 815.3,1057.1 817.3,1055.2C819.3,1053.2 820.9,1050.4 823.1,1048.2C825.2,1046.1 827.7,1044.1 830.0,1042.5C832.3,1040.8 834.8,1039.3 836.9,1038.4C839.0,1037.6 840.7,1037.3 842.7,1037.5C844.6,1037.7 846.3,1038.3 848.4,1039.6C850.5,1040.9 852.6,1043.3 855.3,1045.4C858.0,1047.4 861.9,1049.9 864.6,1051.7C867.2,1053.5 869.2,1055.1 871.5,1056.3C873.8,1057.6 876.5,1058.6 878.4,1059.2C880.3,1059.8 881.5,1060.2 883.0,1060.1C884.5,1060.0 885.9,1059.9 887.6,1058.6C889.3,1057.3 891.5,1054.6 893.4,1052.3C895.3,1050.0 897.6,1047.3 899.1,1044.8C900.7,1042.3 901.4,1039.3 902.6,1037.3C903.7,1035.3 904.7,1033.8 906.1,1032.7C907.4,1031.5 908.9,1030.9 910.7,1030.4C912.4,1029.9 913.7,1029.7 916.4,1029.8C919.1,1029.9 923.5,1030.7 926.8,1031.2C930.1,1031.7 933.5,1032.2 936.0,1032.9C938.5,1033.6 939.9,1034.4 941.8,1035.6C943.7,1036.7 946.0,1038.6 947.6,1039.6C949.1,1040.6 949.4,1041.6 951.0,1041.7C952.6,1041.8 954.2,1040.9 956.9,1040.2C959.6,1039.5 963.6,1038.1 967.3,1037.5C970.9,1036.9 975.7,1036.8 978.8,1036.7C981.9,1036.7 983.6,1036.5 985.7,1037.3C987.8,1038.1 989.4,1039.4 991.5,1041.3C993.6,1043.2 996.1,1046.8 998.4,1048.8C1000.7,1050.8 1002.8,1051.9 1005.3,1053.4C1007.8,1055.0 1010.7,1056.3 1013.4,1058.0C1016.1,1059.8 1018.6,1061.9 1021.5,1063.8C1024.4,1065.7 1028.0,1068.3 1030.7,1069.6C1033.4,1070.9 1035.5,1071.4 1037.6,1071.5C1039.7,1071.6 1041.5,1071.2 1043.4,1070.1C1045.3,1069.0 1047.0,1067.0 1049.1,1065.0C1051.2,1062.9 1053.4,1060.7 1056.1,1058.0C1058.7,1055.4 1062.8,1051.6 1065.3,1048.8C1067.8,1046.0 1069.3,1043.5 1071.0,1041.3C1072.8,1039.1 1074.1,1036.8 1075.6,1035.6C1077.2,1034.3 1078.5,1033.7 1080.3,1033.8C1082.0,1033.9 1084.1,1035.4 1086.0,1036.1C1087.9,1036.8 1089.7,1037.5 1091.8,1038.1C1093.9,1038.7 1096.1,1038.2 1098.7,1039.6C1101.3,1040.9 1104.6,1043.7 1107.2,1046.2C1109.8,1048.7 1112.0,1052.2 1114.4,1054.8C1116.8,1057.5 1119.2,1060.4 1121.6,1062.0C1124.0,1063.7 1126.7,1064.8 1128.8,1064.9C1131.0,1065.0 1132.4,1064.7 1134.6,1062.8C1136.7,1060.8 1139.6,1057.4 1141.8,1053.4C1143.9,1049.4 1145.6,1043.8 1147.6,1039.0C1149.5,1034.2 1151.4,1028.3 1153.3,1024.6C1155.2,1020.9 1157.2,1018.5 1159.1,1016.7C1161.0,1014.9 1162.9,1014.4 1164.8,1013.8C1166.8,1013.2 1168.9,1012.6 1170.6,1013.1C1172.3,1013.5 1173.2,1014.6 1174.9,1016.7C1176.6,1018.7 1178.3,1021.8 1180.7,1025.3C1183.1,1028.8 1186.7,1033.9 1189.3,1037.6C1192.0,1041.2 1194.1,1044.5 1196.5,1046.9C1198.9,1049.3 1201.1,1050.5 1203.7,1052.0C1206.4,1053.4 1209.8,1054.6 1212.4,1055.6C1215.0,1056.5 1217.2,1057.3 1219.6,1057.4C1222.0,1057.6 1224.4,1057.2 1226.8,1056.3C1229.2,1055.4 1231.6,1054.1 1234.0,1052.0C1236.4,1049.8 1239.0,1046.2 1241.2,1043.3C1243.4,1040.4 1245.1,1037.2 1247.0,1034.7C1248.9,1032.1 1250.8,1029.5 1252.7,1028.2C1254.7,1026.9 1256.3,1027.4 1258.5,1026.7C1260.7,1026.1 1263.7,1024.8 1265.7,1024.3C1267.7,1023.7 1269.4,1023.4 1270.7,1023.4C1272.1,1023.5 1273.2,1024.4 1273.6,1024.6" stroke="#3a2c98" stroke-width="2.9" fill="none" stroke-linejoin="round" stroke-linecap="round"/>
<rect x="896.3" y="884.3" width="395.4" height="51.4" fill="#fff" stroke="#111" stroke-width="4.6"/>
<text x="1009.08" y="918.80" font-size="28.86" font-weight="700" fill="#111" stroke="#111" stroke-width="0.25">Absent VEMP</text>
<rect x="1328.9" y="1290.3" width="40.4" height="14.8" fill="#fff" stroke="#111" stroke-width="1.6"/>
<rect x="1328.9" y="1309" width="40.4" height="14.8" fill="#fff" stroke="#111" stroke-width="1.6"/>
<line x1="1332.5" y1="1297.5" x2="1356" y2="1297.5" stroke="#111" stroke-width="2.4"/>
<path d="M1366,1297.5 L1352.8,1293.2 L1355.6,1297.5 L1352.8,1301.8Z" fill="#111"/>
<line x1="1342" y1="1317.1" x2="1366" y2="1317.1" stroke="#111" stroke-width="2"/>
<path d="M1332.4,1317.1 L1343.4,1312.8 L1341.2,1317.1 L1343.4,1321.4Z" fill="#111"/>
</svg></body></html>
